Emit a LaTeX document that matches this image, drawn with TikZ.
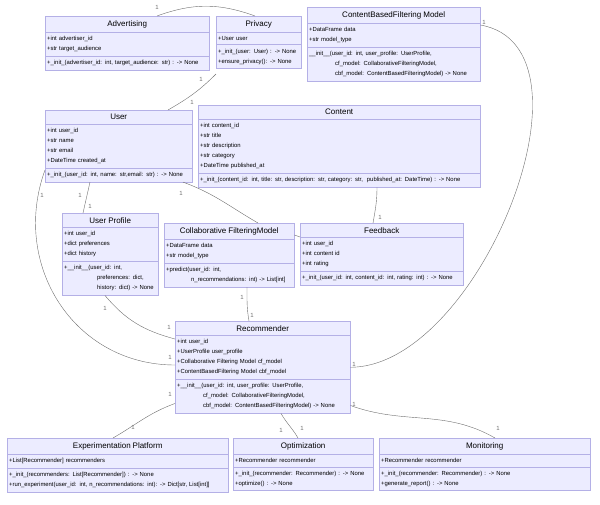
\documentclass[tikz,border=0pt]{standalone}
\usepackage{fontspec}
\setmainfont{Liberation Sans}
\usetikzlibrary{shapes.multipart,positioning}
\definecolor{classfill}{RGB}{236,236,255}
\definecolor{classline}{RGB}{180,176,230}
\definecolor{linkcolor}{RGB}{110,110,110}

\begin{document}
\begin{tikzpicture}[
    x=1pt, y=-1pt,
    class/.style={rectangle split, rectangle split parts=3, draw=classline, fill=classfill,
      anchor=north west, align=left, inner xsep=2pt, inner ysep=4pt,
      font=\fontsize{5.9}{10}\selectfont},
    link/.style={draw=linkcolor, thin},
    mult/.style={font=\fontsize{6}{7}\selectfont, text=linkcolor, inner sep=0pt}
]
\useasboundingbox (0,0) rectangle (600,504);
\newcommand{\ttl}[1]{\centering{\fontsize{8}{12}\selectfont #1}\par}

\node[class, text width=160pt] (adv) at (45,16) {\ttl{Advertising}
  \nodepart{two}+int advertiser\_id\\+str target\_audience
  \nodepart{three}+\_init\_(advertiser\_id: int, target\_audience: str) : -> None};
\node[class, text width=81pt] (priv) at (216,16) {\ttl{Privacy}
  \nodepart{two}+User user
  \nodepart{three}+\_init\_(user: User) : -> None\\+ensure\_privacy(): -> None};
\node[class, text width=169pt] (cbf) at (307,7) {\ttl{ContentBasedFiltering Model}
  \nodepart{two}+DataFrame data\\+str model\_type
  \nodepart{three}\_\_init\_\_(user\_id: int, user\_profile: UserProfile,\\
  \hspace*{26pt}cf\_model: CollaborativeFilteringModel,\\
  \hspace*{26pt}cbf\_model: ContentBasedFilteringModel) -> None};
\node[class, text width=143pt] (user) at (45,110) {\ttl{User}
  \nodepart{two}+int user\_id\\+str name\\+str email\\+DateTime created\_at
  \nodepart{three}+\_init\_(user\_id: int, name: str,email: str) : -> None};
\node[class, text width=278pt] (content) at (198,105) {\ttl{Content}
  \nodepart{two}+int content\_id\\+str title\\+str description\\+str category\\+DateTime published\_at
  \nodepart{three}+\_init\_(content\_id: int, title: str, description: str, category: str,\ \ published\_at: DateTime) : -> None};
\node[class, text width=92pt] (profile) at (62,213) {\ttl{User Profile}
  \nodepart{two}+int user\_id\\+dict preferences\\+dict history
  \nodepart{three}+\_\_init\_\_(user\_id: int,\\
  \hspace*{33pt}preferences: dict,\\
  \hspace*{33pt}history: dict) -> None};
\node[class, text width=126pt] (cf) at (164,223) {\ttl{Collaborative FilteringModel}
  \nodepart{two}+DataFrame data\\+str model\_type
  \nodepart{three}+predict(user\_id: int,\\
  \hspace*{25pt}n\_recommendations: int) -> List[int]};
\node[class, text width=159pt] (feedback) at (300,223) {\ttl{Feedback}
  \nodepart{two}+int user\_id\\+int content id\\+int rating
  \nodepart{three}+\_init\_(user\_id: int, content\_id: int, rating: int) : -> None};
\node[class, text width=171pt] (rec) at (175,321) {\ttl{Recommender}
  \nodepart{two}+int user\_id\\+UserProfile user\_profile\\+Collaborative Filtering Model cf\_model\\+ContentBasedFiltering Model cbf\_model
  \nodepart{three}+\_\_init\_\_(user\_id: int, user\_profile: UserProfile,\\
  \hspace*{26pt}cf\_model: CollaborativeFilteringModel,\\
  \hspace*{26pt}cbf\_model: ContentBasedFilteringModel) -> None};
\node[class, text width=217pt] (exp) at (7,438) {\ttl{Experimentation Platform}
  \nodepart{two}+List[Recommender] recommenders
  \nodepart{three}+\_init\_(recommenders: List[Recommender]) : -> None\\+run\_experiment(user\_id: int, n\_recommendations: int): -> Dict[str, List[int]]};
\node[class, text width=136pt] (opt) at (233,438) {\ttl{Optimization}
  \nodepart{two}+Recommender recommender
  \nodepart{three}+\_init\_(recommender: Recommender) : -> None\\+optimize() : -> None};
\node[class, text width=207pt] (mon) at (379,438) {\ttl{Monitoring}
  \nodepart{two}+Recommender recommender
  \nodepart{three}+\_init\_(recommender: Recommender) : -> None\\+generate\_report() : -> None};

% associations
\draw[link] ([xshift=112pt]adv.north west) to[out=20,in=160] ([xshift=39pt]priv.north west);
\draw[link] ([yshift=-58pt]priv.north west) to[out=225,in=30] ([xshift=123pt]user.north west);
\draw[link] ([yshift=-18pt]cbf.north east) to[out=-10,in=0,looseness=0.9] (rec.east);
\draw[link] ([yshift=-60pt]user.north west) to[out=250,in=180,looseness=1.1] ([yshift=-44pt]rec.north west);
\draw[link] ([xshift=45pt]user.south west) -- ([xshift=21pt]profile.north west);
\draw[link] ([xshift=138pt]user.south west) to[out=-20,in=150] ([xshift=94pt]cf.north west);
\draw[link] ([xshift=179pt]content.south west) to[out=-90,in=80] ([xshift=73pt]feedback.north west);
\draw[link] ([yshift=-12pt]cf.north east) -- ([yshift=-14pt]feedback.north west);
\draw[link] ([xshift=43pt]profile.south west) to[out=-50,in=165] ([yshift=-18pt]rec.north west);
\draw[link] ([xshift=83pt]cf.south west) to[out=-90,in=100] ([xshift=74pt]rec.north west);
\draw[link] ([yshift=10pt]rec.south west) to[out=200,in=30] ([xshift=106pt]exp.north west);
\draw[link] ([xshift=106pt]rec.south west) to[out=-60,in=120] ([xshift=65pt]opt.north west);
\draw[link] ([yshift=8pt]rec.south east) to[out=-20,in=150] ([xshift=116pt]mon.north west);

% multiplicities
\foreach \p in {(157,7),(201,79),(192,102),(484,22),(354,364),(42,195),(170,357),
  (80,195),(90,206),(181,193),(380,217),(105,308),(169,327),(242,297),(252,315),
  (170,394),(133,427),(281,430),(302,428),(354,404),(498,428)}
  \node[mult] at \p {1};
\end{tikzpicture}
\end{document}
